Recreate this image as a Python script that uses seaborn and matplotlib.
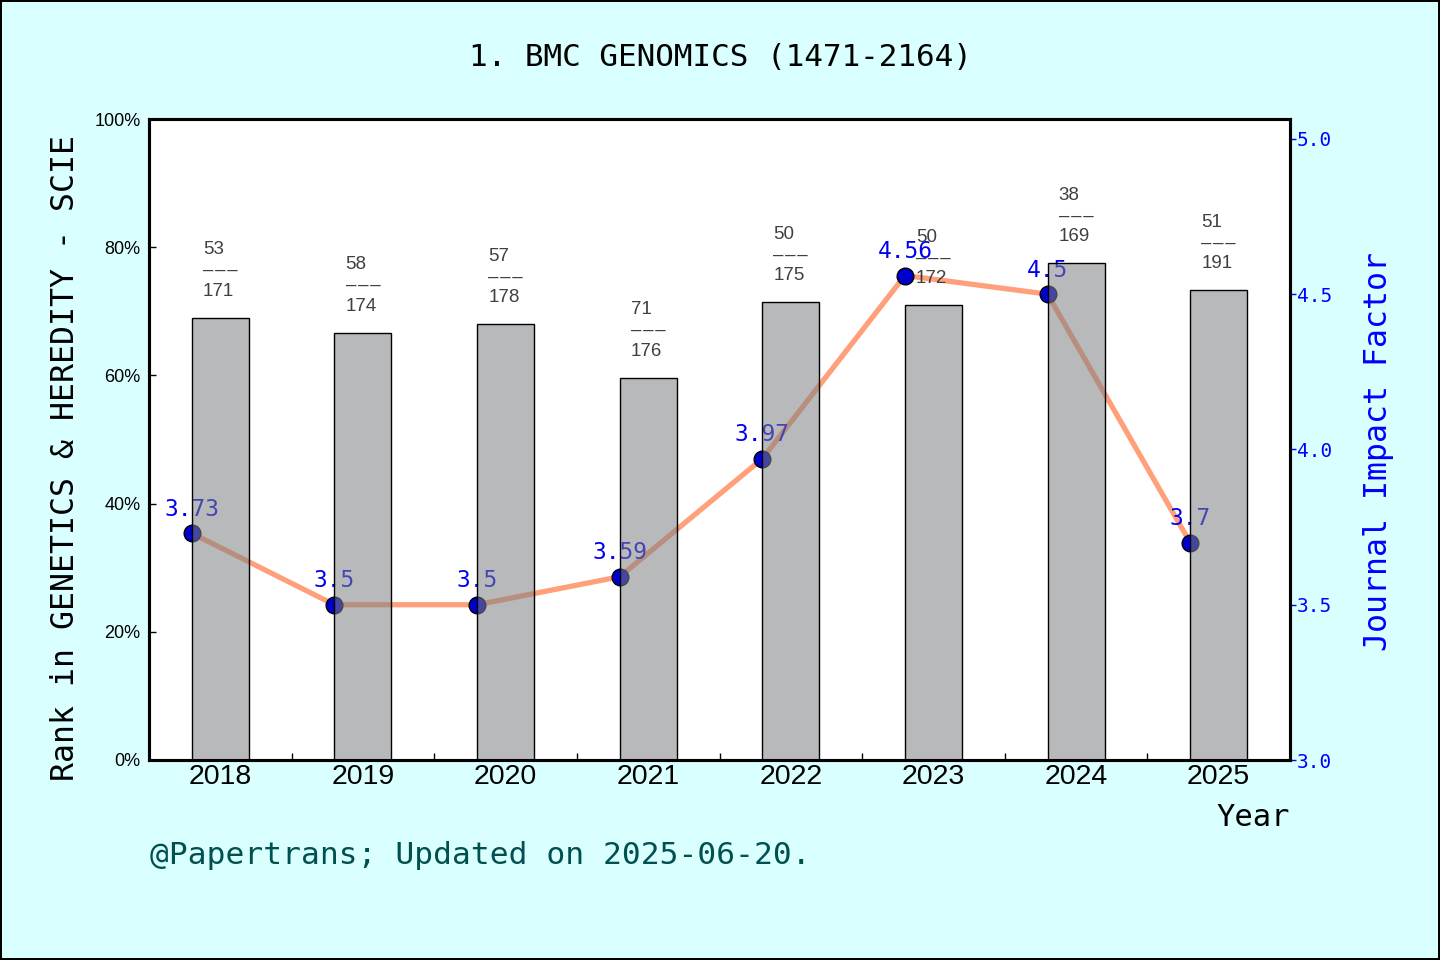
import numpy as np
import matplotlib
matplotlib.use('Agg')
import matplotlib.pyplot as plt
import seaborn as sns

years = ['2018', '2019', '2020', '2021', '2022', '2023', '2024', '2025']
ranks = [53, 58, 57, 71, 50, 50, 38, 51]
totals = [171, 174, 178, 176, 175, 172, 169, 191]
impact = [3.73, 3.5, 3.5, 3.59, 3.97, 4.56, 4.5, 3.7]
impact_labels = ['3.73', '3.5', '3.5', '3.59', '3.97', '4.56', '4.5', '3.7']

# percentile position in the category
pct = [(1 - r / t) * 100 for r, t in zip(ranks, totals)]

mono = 'DejaVu Sans Mono'
sans = 'Liberation Sans'
bg = '#d9ffff'

fig = plt.figure(figsize=(14.4, 9.6), dpi=100)
fig.patch.set_facecolor(bg)
fig.patch.set_edgecolor('black')
fig.patch.set_linewidth(1.5)

ax1 = fig.add_axes([149 / 1440, 1 - 760 / 960, (1290 - 149) / 1440, (760 - 119) / 960])
ax2 = ax1.twinx()
# bars drawn over the IF line
ax1.set_zorder(ax2.get_zorder() + 1)
ax1.patch.set_visible(False)
ax2.patch.set_visible(True)
ax2.patch.set_facecolor('white')

sns.barplot(x=years, y=pct, ax=ax1, width=0.4, color='#7f8183', saturation=1,
            edgecolor='black', linewidth=1)
for bar in ax1.patches:
    bar.set_facecolor((0.498, 0.506, 0.514, 0.55))
    bar.set_edgecolor('black')

xpos = np.arange(len(years)) - 0.2
sns.lineplot(x=xpos, y=impact, ax=ax2, color='#ffa07a', linewidth=3.8,
             marker='o', markersize=12, markerfacecolor='#0000cc',
             markeredgecolor='black', markeredgewidth=1)
for x, v, s in zip(xpos, impact, impact_labels):
    ax2.annotate(s, (x, v), xytext=(0, 9), textcoords='offset points',
                 ha='center', va='bottom', color='#0000ee', fontsize=16.5, family=mono)

dash = '\u2013\u200a\u2013\u200a\u2013'
for i, (p, r, t) in enumerate(zip(pct, ranks, totals)):
    ax1.text(i, p + 2.8, f'{r}\n{dash}\n{t}', ha='center', va='bottom',
             multialignment='left', fontsize=13.5, color='#404040',
             family=[sans, 'DejaVu Sans'], linespacing=1.28)

ax1.set_xlim(-0.5, len(years) - 0.5)
ax2.set_xlim(-0.5, len(years) - 0.5)
ax1.set_ylim(0, 100)
ax2.set_ylim(3.0, 5.064)

ax1.set_yticks([0, 20, 40, 60, 80, 100])
ax1.set_yticklabels([f'{v}%' for v in [0, 20, 40, 60, 80, 100]], family=sans, fontsize=13)
ax1.tick_params(axis='y', direction='in', length=5, width=1, pad=6)
ax1.set_xticks(range(len(years)))
ax1.set_xticklabels(years, family=sans, fontsize=20.5)
ax1.set_xticks(np.arange(len(years) - 1) + 0.5, minor=True)
ax1.tick_params(axis='x', which='major', length=0, pad=3)
ax1.tick_params(axis='x', which='minor', direction='in', length=5, width=1)
ax1.set_xlabel('')
ax1.set_ylabel('Rank in GENETICS & HEREDITY - SCIE', family=mono, fontsize=22.7, labelpad=10)
ax1.yaxis.label.set_y(0.471)

ax2.set_yticks([3.0, 3.5, 4.0, 4.5, 5.0])
ax2.set_yticklabels(['3.0', '3.5', '4.0', '4.5', '5.0'], family=mono, fontsize=14, color='#0000ff')
ax2.tick_params(axis='y', direction='out', length=4, width=1, color='#0000ff', pad=1)
ax2.set_ylabel('Journal Impact Factor', family=mono, fontsize=22.7, color='#0000ff', labelpad=22)
ax2.yaxis.label.set_y(0.482)

for a in (ax1, ax2):
    for sp in a.spines.values():
        sp.set_linewidth(2.2)
        sp.set_color('black')

fig.text(0.5, 1 - 57 / 960, '1. BMC GENOMICS (1471-2164)', ha='center', va='center',
         fontsize=22.3, family=mono)
fig.text(1290 / 1440, 1 - 817 / 960, 'Year', ha='right', va='center', fontsize=22, family=mono)
fig.text(150 / 1440, 1 - 855 / 960, '@Papertrans; Updated on 2025-06-20.', ha='left',
         va='center', fontsize=22.5, family=mono, color='#005050')

fig.savefig('out.png', dpi=100, facecolor=fig.get_facecolor(), edgecolor=fig.get_edgecolor())
